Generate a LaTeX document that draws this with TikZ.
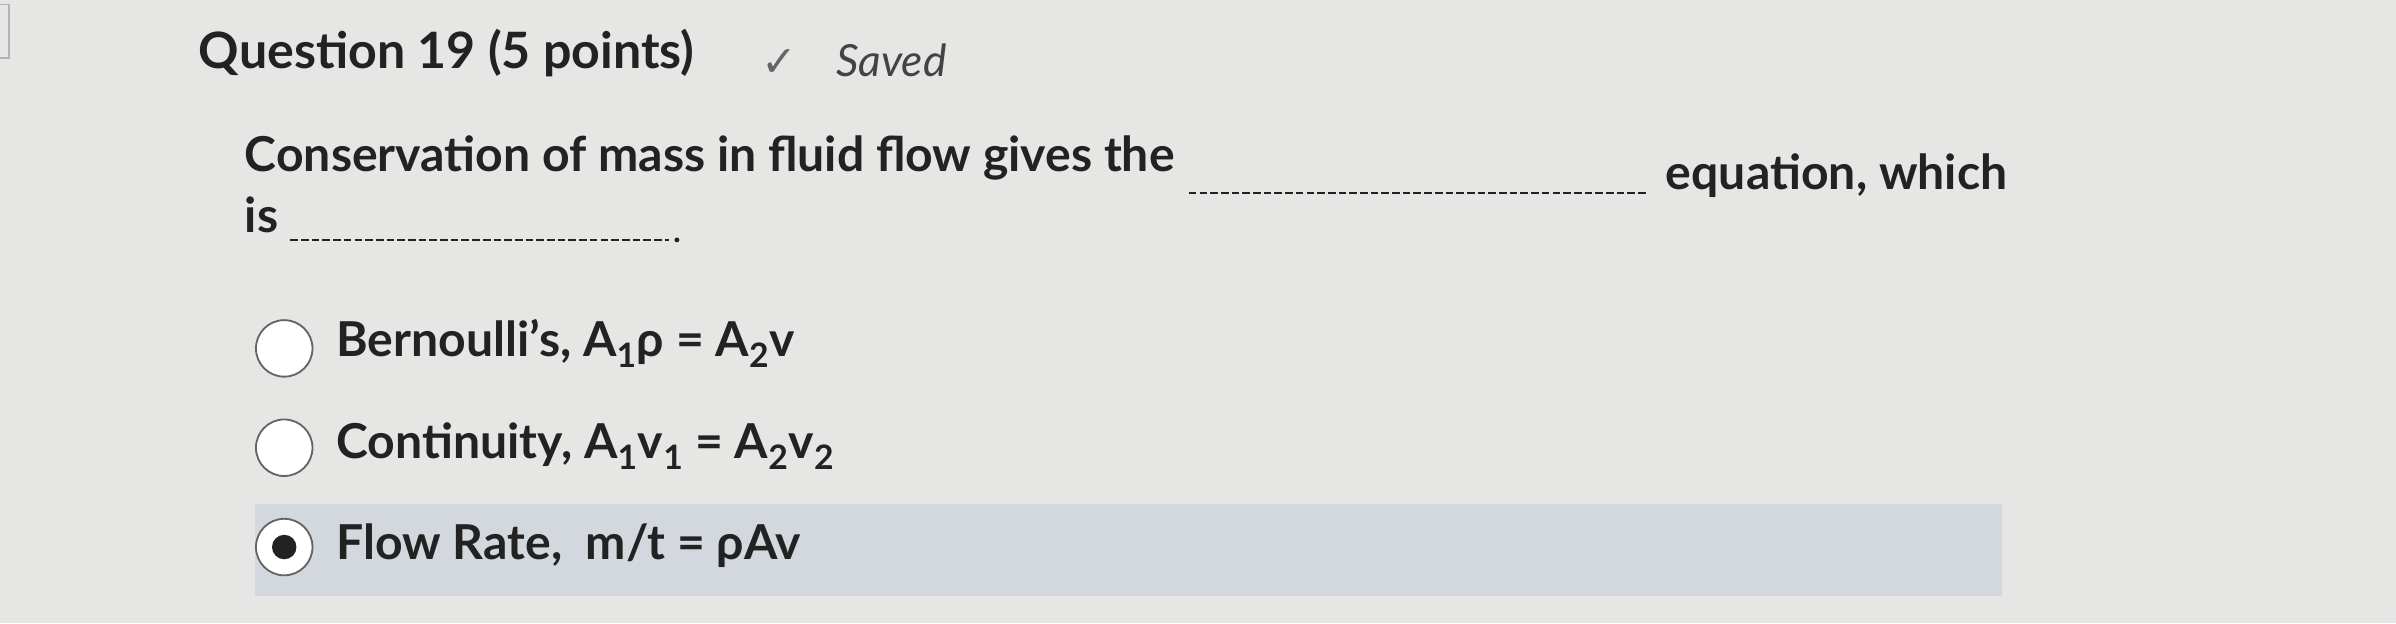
\documentclass[tikz,border=0pt]{standalone}
\usepackage{fontspec}
\setmainfont{Lato}
\newfontfamily\symfont{DejaVu Sans}
\definecolor{bg}{HTML}{E6E6E4}
\definecolor{band}{HTML}{D2D8DD}
\definecolor{ink}{HTML}{222222}
\tikzset{x=1pt,y=-1pt,
 txt/.style={anchor=base west,inner sep=0,text=ink,font=\bfseries\fontsize{31.5}{34}\selectfont},
 blank/.style={ink,line width=1.3pt,dash pattern=on 5pt off 2pt},
 radio/.style={circle,draw=ink!70,line width=1.2pt,fill=white,minimum size=37pt,inner sep=0}}
\begin{document}
\begin{tikzpicture}
\fill[bg] (0,0) rectangle (1568,408);
\useasboundingbox (0,0) rectangle (1568,408);
\draw[gray!60,line width=1pt] (-5,3) -- (6,3) -- (6,38) -- (-5,38);
\node[txt,font=\bfseries\fontsize{32.8}{35}\selectfont] (title) at (130,45) {Question 19 (5 points)};
\node[txt,text=gray!80!black,font=\symfont\fontsize{28}{30}\selectfont] (chk) at (498,50) {✓};
\node[txt,text=ink!85,font=\itshape\fontsize{29}{30}\selectfont] (saved) at (547,50) {Saved};
\node[txt] (l1) at (160,112) {Conservation of mass in fluid flow gives the};
\coordinate (b1s) at (778,126); \coordinate (b1e) at (1078,126);
\draw[blank] (b1s) -- (b1e);
\node[txt] (l1b) at (1090,124) {equation, which};
\node[txt] (l2) at (160,152) {is};
\coordinate (b2s) at (190,157); \coordinate (b2e) at (438,157);
\draw[blank] (b2s) -- (b2e);
\fill[ink] (443,157) circle (1.6);
\fill[band] (167,330) rectangle (1310,390);
\node[radio] (r1) at (186,228) {};
\node[radio] (r2) at (186,293) {};
\node[radio] (r3) at (186,358) {};
\fill[ink] (r3.center) circle (8);
\node[txt] (o1) at (220,233) {Bernoulli's, A\textsubscript{1}ρ = A\textsubscript{2}v};
\node[txt] (o2) at (220,300) {Continuity, A\textsubscript{1}v\textsubscript{1} = A\textsubscript{2}v\textsubscript{2}};
\node[txt] (o3) at (220,366) {Flow Rate,\ \ m/t = ρAv};
\end{tikzpicture}
\end{document}
